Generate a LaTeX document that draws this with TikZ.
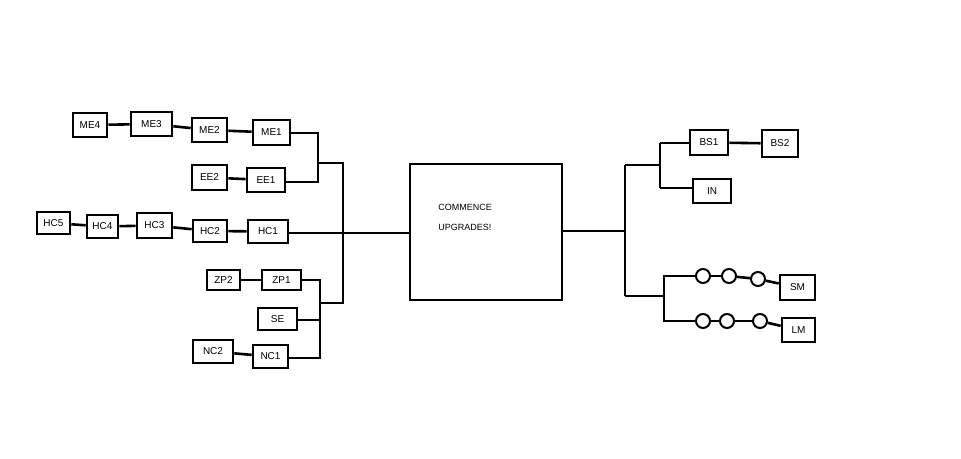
\documentclass[tikz,border=0pt]{standalone}
\usepackage{fontspec}
\setmainfont{Liberation Sans}
\begin{document}
\begin{tikzpicture}[x=1pt,y=-1pt,line width=2.6pt,
  bx/.style={draw,rectangle,font=\fontsize{10}{12}\selectfont,inner sep=0pt},
  ci/.style={draw,circle,minimum size=14pt,inner sep=0pt,line width=2pt}]
\useasboundingbox (0,0) rectangle (961,458);
\newcommand{\bb}[6]{\node[bx,minimum width=#4-#2,minimum height=#5-#3] (#1) at ({(#2+#4)/2},{(#3+#5)/2}) {#6};}
\bb{ME4}{73}{113}{107}{137}{ME4}
\bb{ME3}{131}{112}{172}{136}{ME3}
\bb{ME2}{192}{118}{227}{142}{ME2}
\bb{ME1}{253}{120}{290}{145}{ME1}
\bb{EE2}{192}{165}{227}{190}{EE2}
\bb{EE1}{247}{168}{285}{192}{EE1}
\bb{HC5}{37}{212}{70}{234}{HC5}
\bb{HC4}{87}{215}{118}{238}{HC4}
\bb{HC3}{137}{213}{172}{238}{HC3}
\bb{HC2}{193}{220}{227}{242}{HC2}
\bb{HC1}{248}{220}{288}{243}{HC1}
\bb{ZP2}{207}{270}{240}{290}{ZP2}
\bb{ZP1}{262}{270}{301}{290}{ZP1}
\bb{SE}{258}{308}{297}{330}{SE}
\bb{NC2}{193}{340}{233}{363}{NC2}
\bb{NC1}{253}{345}{288}{368}{NC1}
\bb{BS1}{690}{130}{728}{155}{BS1}
\bb{BS2}{762}{130}{798}{157}{BS2}
\bb{IN}{693}{179}{731}{203}{IN}
\bb{SM}{780}{275}{815}{300}{SM}
\bb{LM}{782}{318}{815}{342}{LM}
\node[draw,rectangle,minimum width=152,minimum height=136] (main) at (486,232) {};
\node[anchor=north west,align=left,font=\fontsize{9}{20}\selectfont,inner sep=0pt] (txt) at (437,203) {COMMENCE\\UPGRADES!};
\draw (ME4) -- (ME3); \draw (ME3) -- (ME2); \draw (ME2) -- (ME1);
\draw (EE2) -- (EE1);
\draw (HC5) -- (HC4); \draw (HC4) -- (HC3); \draw (HC3) -- (HC2); \draw (HC2) -- (HC1);
\draw (ZP2) -- (ZP1); \draw (NC2) -- (NC1);
\draw (ME1.east |- 0,133) -- (318,133) -- (318,182) -- (EE1.east |- 0,182);
\draw (318,163) -- (343,163) -- (343,303) -- (320,303);
\draw (HC1.east |- 0,233) -- (main.west |- 0,233);
\draw (ZP1.east |- 0,280) -- (320,280) -- (320,358) -- (NC1.east |- 0,358);
\draw (SE.east |- 0,320) -- (320,320);
\draw (main.east |- 0,231) -- (625,231);
\draw (625,165) -- (625,296);
\draw (625,165) -- (660,165);
\draw (660,143) -- (660,188);
\draw (660,143) -- (BS1.west |- 0,143);
\draw (660,188) -- (IN.west |- 0,188);
\draw (BS1) -- (BS2);
\draw (625,296) -- (664,296);
\draw (664,275) -- (664,322);
\node[ci] (s1) at (703,276) {}; \node[ci] (s2) at (729,276) {}; \node[ci] (s3) at (758,279) {};
\node[ci] (l1) at (703,321) {}; \node[ci] (l2) at (727,321) {}; \node[ci] (l3) at (760,321) {};
\draw (664,276) -- (s1); \draw (s1) -- (s2); \draw (s2) -- (s3); \draw (s3) -- (SM);
\draw (664,321) -- (l1); \draw (l1) -- (l2); \draw (l2) -- (l3); \draw (l3) -- (LM);
\end{tikzpicture}
\end{document}
